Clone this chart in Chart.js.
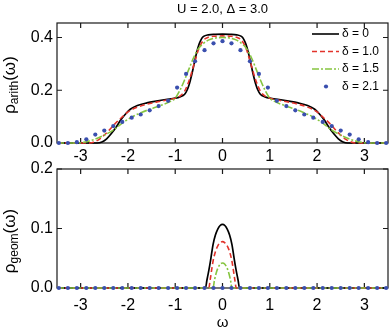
<!DOCTYPE html>
<html>
<head>
<meta charset="utf-8">
<script src="https://cdn.jsdelivr.net/npm/chart.js@4.4.1/dist/chart.umd.min.js"></script>
<style>
  body { margin: 0; background: #fff; }
  #wrap { position: relative; width: 392px; height: 328px; }
  #topBox { position: absolute; left: 0; top: 0; width: 392px; height: 165px; }
  #botBox { position: absolute; left: 0; top: 150px; width: 392px; height: 178px; }
</style>
</head>
<body>
<div id="wrap">
  <div id="topBox"><canvas id="topChart" width="392" height="165"></canvas></div>
  <div id="botBox"><canvas id="botChart" width="392" height="178"></canvas></div>
</div>
<script>
// tick labels
var xTicks = [-3, -2, -1, 0, 1, 2, 3];
var yTicksArith = [0, 0.2, 0.4];
var yTicksGeom = [0, 0.1, 0.2];
var deltaLabels = ['δ = 0', 'δ = 1.0', 'δ = 1.5', 'δ = 2.1'];

// top panel, rho_arith
var wArith0 = [-3.5, -2.65, -2.55, -2.45, -2.35, -2.25, -2.15, -2.05, -1.95, -1.8, -1.6, -1.4, -1.2, -1.0, -0.9, -0.8, -0.75, -0.7, -0.65, -0.6, -0.55, -0.5, -0.45, -0.4, -0.3, -0.15, 0,
               0.15, 0.3, 0.4, 0.45, 0.5, 0.55, 0.6, 0.65, 0.7, 0.75, 0.8, 0.9, 1.0, 1.2, 1.4, 1.6, 1.8, 1.95, 2.05, 2.15, 2.25, 2.35, 2.45, 2.55, 2.65, 3.5];
var rhoArith0 = [0, 0, 0.004, 0.016, 0.036, 0.06, 0.088, 0.11, 0.128, 0.142, 0.152, 0.159, 0.165, 0.17, 0.175, 0.185, 0.2, 0.225, 0.26, 0.3, 0.34, 0.372, 0.393, 0.404, 0.41, 0.412, 0.413,
                 0.412, 0.41, 0.404, 0.393, 0.372, 0.34, 0.3, 0.26, 0.225, 0.2, 0.185, 0.175, 0.17, 0.165, 0.159, 0.152, 0.142, 0.128, 0.11, 0.088, 0.06, 0.036, 0.016, 0.004, 0, 0];

var wArith1 = [-3.5, -2.8, -2.7, -2.6, -2.5, -2.4, -2.3, -2.2, -2.1, -2.0, -1.8, -1.6, -1.4, -1.2, -1.0, -0.9, -0.8, -0.7, -0.6, -0.5, -0.4, -0.3, -0.15, 0,
               0.15, 0.3, 0.4, 0.5, 0.6, 0.7, 0.8, 0.9, 1.0, 1.2, 1.4, 1.6, 1.8, 2.0, 2.1, 2.2, 2.3, 2.4, 2.5, 2.6, 2.7, 2.8, 3.5];
var rhoArith1 = [0, 0, 0.005, 0.015, 0.03, 0.048, 0.068, 0.086, 0.102, 0.118, 0.136, 0.147, 0.155, 0.162, 0.17, 0.178, 0.197, 0.24, 0.3, 0.358, 0.39, 0.401, 0.405, 0.406,
                 0.405, 0.401, 0.39, 0.358, 0.3, 0.24, 0.197, 0.178, 0.17, 0.162, 0.155, 0.147, 0.136, 0.118, 0.102, 0.086, 0.068, 0.048, 0.03, 0.015, 0.005, 0, 0];

var wArith2 = [-3.5, -3.05, -2.9, -2.7, -2.5, -2.3, -2.1, -1.9, -1.7, -1.5, -1.3, -1.1, -1.0, -0.9, -0.8, -0.7, -0.6, -0.5, -0.4, -0.3, -0.15, 0,
               0.15, 0.3, 0.4, 0.5, 0.6, 0.7, 0.8, 0.9, 1.0, 1.1, 1.3, 1.5, 1.7, 1.9, 2.1, 2.3, 2.5, 2.7, 2.9, 3.05, 3.5];
var rhoArith2 = [0, 0, 0.004, 0.014, 0.03, 0.05, 0.078, 0.1, 0.117, 0.13, 0.143, 0.158, 0.17, 0.2, 0.24, 0.285, 0.328, 0.36, 0.378, 0.39, 0.398, 0.4,
                 0.398, 0.39, 0.378, 0.36, 0.328, 0.285, 0.24, 0.2, 0.17, 0.158, 0.143, 0.13, 0.117, 0.1, 0.078, 0.05, 0.03, 0.014, 0.004, 0, 0];

var wDots = [-3.46, -3.27, -3.08, -2.88, -2.69, -2.5, -2.31, -2.12, -1.92, -1.73, -1.54, -1.35, -1.15, -0.96, -0.77, -0.58, -0.38, -0.19, 0,
             0.19, 0.38, 0.58, 0.77, 0.96, 1.15, 1.35, 1.54, 1.73, 1.92, 2.12, 2.31, 2.5, 2.69, 2.88, 3.08, 3.27, 3.46];
var rhoArith3 = [0, 0, 0.003, 0.014, 0.032, 0.047, 0.064, 0.08, 0.096, 0.108, 0.124, 0.14, 0.16, 0.21, 0.262, 0.31, 0.352, 0.378, 0.386,
                 0.378, 0.352, 0.31, 0.262, 0.21, 0.16, 0.14, 0.124, 0.108, 0.096, 0.08, 0.064, 0.047, 0.032, 0.014, 0.003, 0, 0];

// bottom panel, rho_geom
var wGeom0 = [-3.5, -0.36, -0.33, -0.3, -0.27, -0.23, -0.2, -0.15, -0.1, -0.05, 0, 0.05, 0.1, 0.15, 0.2, 0.23, 0.27, 0.3, 0.33, 0.36, 3.5];
var rhoGeom0 = [0, 0, 0.013, 0.025, 0.038, 0.058, 0.073, 0.089, 0.099, 0.105, 0.107, 0.105, 0.099, 0.089, 0.073, 0.058, 0.038, 0.025, 0.013, 0, 0];
var wGeom1 = [-3.5, -0.29, -0.26, -0.23, -0.2, -0.15, -0.1, -0.05, 0, 0.05, 0.1, 0.15, 0.2, 0.23, 0.26, 0.29, 3.5];
var rhoGeom1 = [0, 0, 0.014, 0.03, 0.045, 0.061, 0.071, 0.076, 0.078, 0.076, 0.071, 0.061, 0.045, 0.03, 0.014, 0, 0];
var wGeom2 = [-3.5, -0.2, -0.17, -0.13, -0.1, -0.05, 0, 0.05, 0.1, 0.13, 0.17, 0.2, 3.5];
var rhoGeom2 = [0, 0, 0.013, 0.026, 0.033, 0.04, 0.042, 0.04, 0.033, 0.026, 0.013, 0, 0];
var rhoGeom3 = wDots.map(function () { return 0; });

var FONT = '"Liberation Sans", Arial, sans-serif';
var colors = ['#000000', '#e2332b', '#86c540', '#3a4fae'];
var dashes = [[], [5, 3], [7, 2, 2, 2], null];

function pts(xs, ys) {
    return xs.map(function (x, i) { return { x: x, y: ys[i] }; });
}

function lineSet(i, data) {
    return {
        label: deltaLabels[i], data: data, borderColor: colors[i], backgroundColor: colors[i],
        borderWidth: i == 0 ? 1.7 : 1.6, borderDash: dashes[i], pointRadius: 0, fill: false,
        cubicInterpolationMode: 'monotone', order: 4 - i, clip: 4
    };
}
function dotSet(i, data) {
    return {
        label: deltaLabels[i], data: data, showLine: false, pointRadius: 2.1, pointBorderWidth: 0,
        pointBackgroundColor: colors[i], backgroundColor: colors[i], borderColor: colors[i],
        order: 0, clip: 4
    };
}

// frame, inward ticks, titles and legend
function decor(opts) {
    return {
        id: 'decor',
        beforeDatasetsDraw: function (chart) {
            var ctx = chart.ctx, a = chart.chartArea;
            var xs = chart.scales.x, ys = chart.scales.y;
            ctx.save();
            ctx.strokeStyle = '#1a1a1a';
            ctx.lineWidth = 1.2;
            ctx.strokeRect(a.left, a.top, a.right - a.left, a.bottom - a.top);
            ctx.beginPath();
            xs.ticks.forEach(function (t) {
                var p = xs.getPixelForValue(t.value);
                ctx.moveTo(p, a.bottom); ctx.lineTo(p, a.bottom - 5);
                ctx.moveTo(p, a.top); ctx.lineTo(p, a.top + 5);
            });
            ys.ticks.forEach(function (t) {
                var p = ys.getPixelForValue(t.value);
                ctx.moveTo(a.left, p); ctx.lineTo(a.left + 5, p);
                ctx.moveTo(a.right, p); ctx.lineTo(a.right - 5, p);
            });
            ctx.stroke();
            ctx.restore();
        },
        afterDraw: function (chart) {
            var ctx = chart.ctx, a = chart.chartArea;
            ctx.save();
            ctx.fillStyle = '#000';
            if (opts.title) {
                ctx.font = '13px ' + FONT;
                ctx.textAlign = 'center';
                ctx.textBaseline = 'middle';
                ctx.fillText(opts.title, (a.left + a.right) / 2, 9);
            }
            if (opts.xlab) {
                ctx.font = '15px ' + FONT;
                ctx.textAlign = 'center';
                ctx.textBaseline = 'middle';
                ctx.fillText(opts.xlab, (a.left + a.right) / 2, opts.xlabY);
            }
            // y title with subscript
            ctx.save();
            ctx.translate(14.5, opts.ylabY);
            ctx.rotate(-Math.PI / 2);
            ctx.textAlign = 'left';
            ctx.textBaseline = 'alphabetic';
            ctx.font = '17px ' + FONT;
            var w1 = ctx.measureText('ρ').width, w3 = ctx.measureText('(ω)').width;
            ctx.font = '12px ' + FONT;
            var w2 = ctx.measureText(opts.sub).width;
            var x0 = -(w1 + w2 + w3) / 2;
            ctx.font = '17px ' + FONT;
            ctx.fillText('ρ', x0, 0);
            ctx.font = '12px ' + FONT;
            ctx.fillText(opts.sub, x0 + w1, 3);
            ctx.font = '17px ' + FONT;
            ctx.fillText('(ω)', x0 + w1 + w2, 0);
            ctx.restore();
            if (opts.legend) {
                ctx.font = '12px ' + FONT;
                ctx.textAlign = 'left';
                ctx.textBaseline = 'middle';
                for (var i = 0; i < deltaLabels.length; i++) {
                    var y = a.top + 11 + i * 17.5;
                    if (dashes[i]) {
                        ctx.strokeStyle = colors[i];
                        ctx.lineWidth = 1.6;
                        ctx.setLineDash(dashes[i]);
                        ctx.beginPath(); ctx.moveTo(312, y); ctx.lineTo(339, y); ctx.stroke();
                        ctx.setLineDash([]);
                    } else {
                        ctx.fillStyle = colors[i];
                        ctx.beginPath(); ctx.arc(326, y, 2.1, 0, Math.PI * 2); ctx.fill();
                    }
                    ctx.fillStyle = '#000';
                    ctx.fillText(deltaLabels[i], 342, y);
                }
            }
            ctx.restore();
        }
    };
}

function scalesFor(yMax, yTicks, xHeight, xPad) {
    return {
        x: {
            type: 'linear', min: -3.5, max: 3.5,
            afterBuildTicks: function (s) { s.ticks = xTicks.map(function (v) { return { value: v }; }); },
            afterFit: function (s) { s.height = xHeight; },
            grid: { display: false, drawTicks: false }, border: { display: false },
            ticks: { padding: xPad, color: '#000', autoSkip: false, maxRotation: 0, font: { family: FONT, size: 16 } }
        },
        y: {
            type: 'linear', min: 0, max: yMax,
            afterBuildTicks: function (s) { s.ticks = yTicks.map(function (v) { return { value: v }; }); },
            afterFit: function (s) { s.width = 57; },
            grid: { display: false, drawTicks: false }, border: { display: false },
            ticks: {
                padding: 4, color: '#000', font: { family: FONT, size: 16 },
                callback: function (v) { return v.toFixed(1); }
            }
        }
    };
}

var common = {
    responsive: false, animation: false, devicePixelRatio: 1, events: [],
    plugins: { legend: { display: false }, tooltip: { enabled: false }, title: { display: false } }
};

new Chart(document.getElementById('topChart'), {
    type: 'line',
    data: {
        datasets: [
            lineSet(0, pts(wArith0, rhoArith0)),
            lineSet(1, pts(wArith1, rhoArith1)),
            lineSet(2, pts(wArith2, rhoArith2)),
            dotSet(3, pts(wDots, rhoArith3))
        ]
    },
    options: Object.assign({}, common, {
        layout: { padding: { top: 23, right: 3, left: 0, bottom: 0 } },
        scales: scalesFor(0.455, yTicksArith, 22, 4)
    }),
    plugins: [decor({ title: 'U = 2.0, Δ = 3.0', sub: 'arith', ylabY: 85, legend: true })]
});

new Chart(document.getElementById('botChart'), {
    type: 'line',
    data: {
        datasets: [
            lineSet(0, pts(wGeom0, rhoGeom0)),
            lineSet(1, pts(wGeom1, rhoGeom1)),
            lineSet(2, pts(wGeom2, rhoGeom2)),
            dotSet(3, pts(wDots, rhoGeom3))
        ]
    },
    options: Object.assign({}, common, {
        layout: { padding: { top: 19, right: 3, left: 0, bottom: 0 } },
        scales: scalesFor(0.2, yTicksGeom, 40, 8)
    }),
    plugins: [decor({ sub: 'geom', ylabY: 91, xlab: 'ω', xlabY: 173 })]
});
</script>
</body>
</html>
